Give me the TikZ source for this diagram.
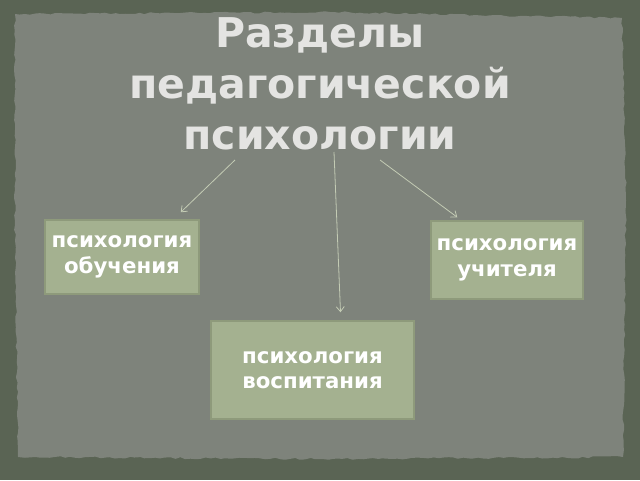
\documentclass[tikz,border=0pt]{standalone}
\usepackage{fontspec}
\setmainfont{DejaVu Sans}
\usetikzlibrary{positioning, calc, arrows.meta, decorations.pathmorphing}
\definecolor{boardbg}{HTML}{5A6454}
\definecolor{paper}{HTML}{7E837B}
\definecolor{boxfill}{HTML}{A4B190}
\definecolor{boxline}{HTML}{8E9A7B}
\definecolor{arrowcol}{HTML}{C3CBB4}
\definecolor{titlecol}{HTML}{E4E4E2}

\tikzset{
  section/.style={draw=boxline, line width=1.5pt, fill=boxfill, text=white,
    font=\bfseries\fontsize{21.3}{25.5}\selectfont, align=center, inner sep=0pt},
  arr/.style={draw=arrowcol, line width=0.8pt, -{Straight Barb[length=5pt,width=8pt]}}
}

\begin{document}
\begin{tikzpicture}[x=1pt, y=-1pt]
  % фон
  \fill[boardbg] (0,0) rectangle (640,480);
  \useasboundingbox (0,0) rectangle (640,480);

  % лист бумаги
  \fill[paper, decorate, decoration={random steps, segment length=5pt, amplitude=1pt}]
    (15,14) -- (330,12) -- (622,18) -- (626,200) -- (623,457) -- (320,459) -- (18,457) -- (15,240) -- cycle;

  % заголовок
  \node[text=titlecol, font=\bfseries\fontsize{41}{51}\selectfont, align=center, inner sep=0pt]
    (title) at (320,84) {Разделы\\педагогической\\психологии};

  % разделы
  \node[section, minimum width=154pt, minimum height=74pt] (learn) at (122,257) {психология\\обучения};
  \node[section, minimum width=152pt, minimum height=78pt] (teacher) at (507,260) {психология\\учителя};
  \node[section, minimum width=203pt, minimum height=98pt] (upbring) at (312.5,370) {психология\\воспитания};

  % стрелки
  \coordinate (s1) at (235,160);
  \coordinate (s2) at (334,152);
  \coordinate (s3) at (380,160);
  \draw[arr] (s1) -- ([shift={(-19,-7)}]learn.north east);
  \draw[arr] (s2) -- ([shift={(28,-8)}]upbring.north);
  \draw[arr] (s3) -- ([shift={(27,-3)}]teacher.north west);
\end{tikzpicture}
\end{document}
